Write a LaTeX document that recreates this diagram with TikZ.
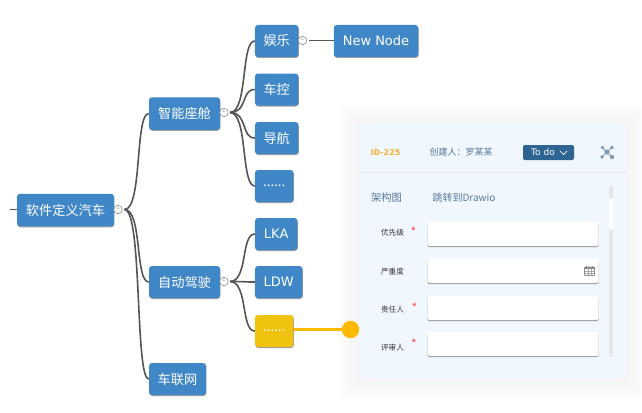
\documentclass[tikz,border=0pt]{standalone}
\usepackage{fontspec}
\setmainfont{Noto Sans CJK SC}
\newfontfamily\latinf{DejaVu Sans}
\usetikzlibrary{shadows,calc}
\definecolor{nodeblue}{HTML}{4087C8}
\definecolor{nodeyellow}{HTML}{F0C30F}
\definecolor{dotyellow}{HTML}{FFB900}
\definecolor{panelbg}{HTML}{F0F7FF}
\definecolor{paneltext}{HTML}{56799A}
\definecolor{btnblue}{HTML}{2E6491}
\definecolor{linegray}{HTML}{555555}
\definecolor{idorange}{HTML}{F2B134}
\tikzset{
  mapnode/.style={fill=nodeblue,rounded corners=3pt,inner sep=0pt,text=white,font=\fontsize{13.2}{15}\selectfont,
    drop shadow={shadow xshift=0.4pt,shadow yshift=-1pt,opacity=.55,fill=black!70}},
  latinnode/.style={mapnode,font=\latinf\fontsize{13}{15}\selectfont},
  yellownode/.style={mapnode,fill=nodeyellow},
  collapse/.style={circle,draw=black!45,fill=white,line width=.6pt,minimum size=8.5pt,inner sep=0pt,font=\latinf\fontsize{7}{7}\selectfont,text=black!80},
  link/.style={draw=linegray,line width=1.6pt},
  field/.style={fill=white,rounded corners=1.5pt,inner sep=0pt,minimum width=171pt,minimum height=24pt,
    drop shadow={shadow xshift=0pt,shadow yshift=-1.2pt,opacity=.55,fill=black!70}},
  flabel/.style={inner sep=0pt,text=black!80,font=\fontsize{7.6}{9}\selectfont},
  ptext/.style={inner sep=0pt,text=paneltext},
  star/.style={inner sep=0pt,text=red!70,font=\fontsize{12}{12}\selectfont},
}
\begin{document}
\begin{tikzpicture}[x=1pt,y=-1pt]
\useasboundingbox (0,0) rectangle (642,412);
% panel shadow
\foreach \s in {22,20,...,2}{
  \fill[black,opacity=.003,rounded corners=8pt] (359-\s,124-\s) rectangle (626+\s,380+\s);
}
\node[fill=panelbg,rounded corners=1.5pt,inner sep=0pt,minimum width=267pt,minimum height=256pt] (panel) at (492.5,250) {};
\draw[draw=black!9,line width=.8pt] (359,172) -- (626,172);
% panel header
\node[inner sep=0pt,text=idorange,font=\latinf\bfseries\fontsize{8}{9}\selectfont] (idl) at (385.5,153) {ID-225};
\node[ptext,font=\fontsize{9}{10}\selectfont] (creator) at (461,152.5) {创建人：罗某某};
\node[fill=btnblue,rounded corners=2pt,inner sep=0pt,minimum width=51pt,minimum height=15pt] (btn) at (548.5,152.5) {};
\node[inner sep=0pt,text=white,font=\latinf\fontsize{9}{9}\selectfont] (todo) at (543,152.5) {To do};
\draw[white,line width=.7pt] (560,151) -- (563.5,154.5) -- (567,151);
% network icon
\draw[paneltext!70,line width=1pt] (602,147.5) -- (612,157) (612,147) -- (602,157);
\fill[paneltext!75] (607,152) circle (2.6pt) (602.5,147.5) circle (1.8pt) (612,147.5) circle (1.8pt) (602,157) circle (1.8pt) (612,157) circle (2.2pt);
% section row
\node[ptext,font=\fontsize{10.3}{12}\selectfont] (arch) at (386.5,197.5) {架构图};
\node[ptext,font=\fontsize{10}{12}\selectfont] (jump) at (464,197.5) {跳转到Drawio};
% scrollbar
\fill[black!10,rounded corners=2pt] (609,186) rectangle (613,357);
\fill[white,rounded corners=2pt] (609,198) rectangle (613,230);
% fields
\node[field] (f1) at (513,234) {};
\node[field] (f2) at (513,271) {};
\node[field] (f3) at (513,308) {};
\node[field] (f4) at (513,344) {};
\node[flabel] (l1) at (392.5,232.5) {优先级};
\node[flabel] (l2) at (392.5,271.5) {严重度};
\node[flabel] (l3) at (392.5,309.5) {责任人};
\node[flabel] (l4) at (392.5,347.5) {评审人};
\node[star] (s1) at (413.5,232) {*};
\node[star] (s3) at (414.5,308) {*};
\node[star] (s4) at (414,344) {*};
% calendar icon
\draw[black!45,line width=.7pt,rounded corners=.6pt] (584.5,267) rectangle (594.5,275.5);
\fill[black!45] (584.5,267) rectangle (594.5,269);
\draw[black!45,line width=.7pt] (586.5,266) -- (586.5,267.5) (592.5,266) -- (592.5,267.5);
\draw[black!35,line width=.5pt] (584.5,271) -- (594.5,271) (584.5,273.2) -- (594.5,273.2) (587.8,269) -- (587.8,275.5) (591.2,269) -- (591.2,275.5);
% map nodes
\node[mapnode,minimum width=97pt,minimum height=32.5pt] (root) at (65.5,210) {软件定义汽车};
\node[mapnode,minimum width=71pt,minimum height=32.5pt] (cabin) at (184.5,113.5) {智能座舱};
\node[mapnode,minimum width=71pt,minimum height=32pt] (drive) at (184.5,282) {自动驾驶};
\node[mapnode,minimum width=57pt,minimum height=32pt] (net) at (177.5,379) {车联网};
\node[mapnode,minimum width=43.5pt,minimum height=32pt] (ent) at (276.7,41) {娱乐};
\node[mapnode,minimum width=43.5pt,minimum height=32pt] (ctrl) at (276.7,89.5) {车控};
\node[mapnode,minimum width=43.5pt,minimum height=32pt] (navi) at (276.7,138) {导航};
\node[mapnode,minimum width=38.5pt,minimum height=32pt] (more) at (274.2,186) {......};
\node[latinnode,minimum width=84.5pt,minimum height=32pt] (new) at (376,41) {New Node};
\node[latinnode,minimum width=42.5pt,minimum height=32pt] (lka) at (276.2,234) {LKA};
\node[latinnode,minimum width=47.5pt,minimum height=32pt] (ldw) at (278.7,282) {LDW};
\node[yellownode,minimum width=38.5pt,minimum height=32pt] (ymore) at (274.2,331) {......};
% collapse markers
\node[collapse] (c0) at (118,209.5) {-};
\node[collapse] (c1) at (224,112.5) {-};
\node[collapse] (c2) at (224,281.5) {-};
\node[collapse] (c3) at (302.5,40.5) {-};
% stub
\coordinate (stub) at (10,209.5);
\draw[link] (stub) -- (root.west |- stub);
% connectors
\coordinate (j0) at (124.5,209.5);
\coordinate (j1) at (230,112.5);
\coordinate (j2) at (230,281.5);
\foreach \t in {cabin,drive,net}{
  \draw[link] (j0) .. controls +(18,0) and ($(\t.west)+(-14,0)$) .. (\t.west);
}
\foreach \t in {ent,ctrl,navi,more}{
  \draw[link] (j1) .. controls +(18,0) and ($(\t.west)+(-14,0)$) .. (\t.west);
}
\foreach \t in {lka,ldw,ymore}{
  \draw[link] (j2) .. controls +(18,0) and ($(\t.west)+(-14,0)$) .. (\t.west);
}
\draw[link] (c3.east) ++(2,0) coordinate (j3) -- (new.west |- j3);
% highlight
\node[circle,fill=dotyellow,inner sep=0pt,minimum size=17.5pt] (dot) at (350.5,329.5) {};
\draw[dotyellow,line width=2.4pt] (ymore.east |- dot) -- (dot.west);
\end{tikzpicture}
\end{document}
